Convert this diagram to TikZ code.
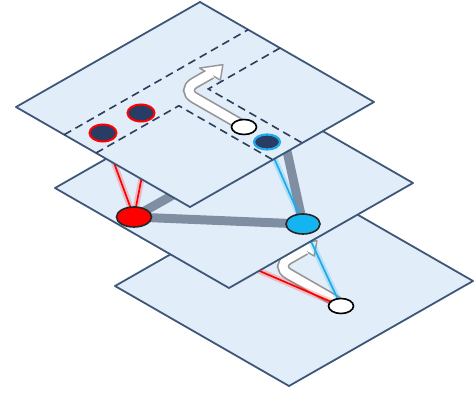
\documentclass[tikz,border=0pt]{standalone}
\usepackage{tikz}
\usepackage{color}
\usetikzlibrary{calc,shapes}
\definecolor{planefill}{RGB}{226,237,250}
\definecolor{planeedge}{RGB}{62,86,120}
\definecolor{dashcol}{RGB}{45,62,90}
\definecolor{linkgray}{RGB}{128,142,162}
\definecolor{arrowgray}{RGB}{150,150,150}
\definecolor{navy}{RGB}{40,60,100}
\definecolor{hubblue}{RGB}{20,180,240}
\definecolor{ringblue}{RGB}{30,170,235}
\newcommand{\tikzLayerPlane}[1]{
  \path[draw=planeedge,line width=1.8pt,fill=planefill,line join=round] (#1) -- ++(174,100) -- ++(184,-105) -- ++(-174,-100) -- cycle;
}
\newcommand{\tikzTurnArrow}[1]{
  \begin{scope}[shift={(#1)},x={(174pt,-100pt)},y={(184pt,105pt)}]
    \draw[line width=12pt,draw=arrowgray,rounded corners=15pt] (0.75,0.53) -- (0.39,0.53) -- (0.39,0.69);
    \draw[line width=1.4pt,draw=arrowgray,fill=white,line join=round] (0.33,0.685) -- (0.38,0.765) -- (0.45,0.685) -- cycle;
    \draw[line width=8.6pt,draw=white,rounded corners=15pt] (0.75,0.53) -- (0.39,0.53) -- (0.39,0.695);
  \end{scope}
}

\begin{document}
\begin{tikzpicture}[x=1pt, y=-1pt, semithick,
  dot/.style={ellipse,inner sep=0pt,minimum width=25pt,minimum height=15pt,line width=1.6pt},
  reddot/.style={dot,fill=navy,draw=red,line width=2pt,minimum width=27pt,minimum height=17pt},
  bluedot/.style={dot,fill=navy,draw=ringblue,line width=2.2pt,minimum width=26pt},
  walker/.style={dot,fill=white,draw=black},
  redhub/.style={dot,fill=red,draw=black!85,minimum width=35pt,minimum height=20pt},
  bluehub/.style={dot,fill=hubblue,draw=black!85,minimum width=34pt,minimum height=20pt},
  redlink/.style={draw=red,line width=1.7pt,preaction={draw=red,line width=6pt,draw opacity=0.2}},
  bluelink/.style={draw=ringblue,line width=1.7pt,preaction={draw=cyan,line width=6pt,draw opacity=0.2}},
  graylink/.style={draw=linkgray,line width=9pt},
  corridor/.style={draw=dashcol,line width=1.6pt,dash pattern=on 8pt off 5pt}]
  \useasboundingbox (0,0) rectangle (474,404);

  \coordinate (pR1)   at (103,133);
  \coordinate (pR2)   at (141,113);
  \coordinate (pW)    at (244,127);
  \coordinate (pB)    at (267,142);
  \coordinate (pRx)   at (152,125);
  \coordinate (pHub)  at (283,133);
  \coordinate (pRed)  at (134,217);
  \coordinate (pBlue) at (303,224);
  \coordinate (pWw)   at (341,306);

  % bottom layer
  \tikzLayerPlane{115,286}
  \tikzTurnArrow{110,283}
  \draw[redlink]  (pWw) -- (pRed);
  \draw[bluelink] (pWw) -- (pBlue);
  \node[walker] (walk2) at (pWw) {};

  % middle layer
  \tikzLayerPlane{55,188}
  \draw[graylink] (pRed) -- (pHub);
  \draw[graylink] (pBlue) -- (pHub);
  \draw[graylink] (pRed) -- (pBlue);
  \draw[redlink]  (pRed) -- (pR1);
  \draw[redlink]  (pRed) -- (pRx);
  \draw[bluelink] (pBlue) -- (pB);
  \node[redhub]  (red)  at (pRed)  {};
  \node[bluehub] (blue) at (pBlue) {};

  % top layer
  \tikzLayerPlane{16,107}
  \begin{scope}[shift={(16,107)},x={(174pt,-100pt)},y={(184pt,105pt)}]
    \draw[corridor] (0.277,0) -- (0.277,1);
    \draw[corridor] (0.46,1) -- (0.46,0.61) -- (1,0.61);
    \draw[corridor] (0.46,0) -- (0.46,0.45) -- (1,0.45);
  \end{scope}
  \tikzTurnArrow{16,107}
  \node[reddot]  (red1)  at (pR1) {};
  \node[reddot]  (red2)  at (pR2) {};
  \node[walker]  (walk1) at (pW)  {};
  \node[bluedot] (blue1) at (pB)  {};
\end{tikzpicture}
\end{document}
